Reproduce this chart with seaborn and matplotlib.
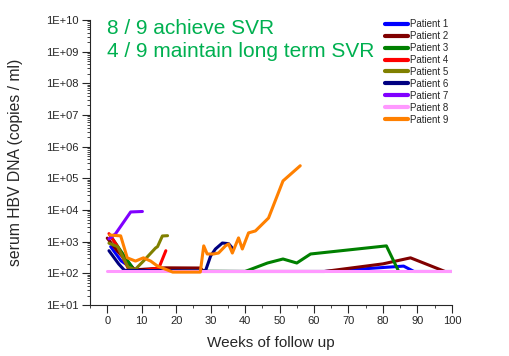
import numpy as np
import pandas as pd
import matplotlib.pyplot as plt
import matplotlib.ticker as mticker
import seaborn as sns

# weeks of follow up / serum HBV DNA (copies/ml)
p1_x = [1, 4, 8, 20, 40, 63, 86, 89, 100]
p1_y = [700, 250, 125, 115, 115, 115, 170, 115, 115]
p2_x = [0, 3, 8, 17, 27, 28, 63, 80, 88, 98]
p2_y = [1300, 500, 130, 150, 148, 115, 115, 200, 310, 115]
p3_x = [1, 4, 8, 40, 46.5, 51, 55, 59, 81, 84.5]
p3_y = [1500, 500, 120, 115, 213, 285, 213, 410, 740, 120]
p4_x = [0.5, 3, 6, 10, 15, 17]
p4_y = [1800, 700, 150, 120, 150, 520]
p5_x = [0.5, 3, 6, 8, 10.5, 14, 14.6, 16, 17.5]
p5_y = [900, 700, 160, 130, 245, 630, 700, 1520, 1550]
p6_x = [0.5, 3.3, 5, 28, 28.5, 30, 31.4, 33.4, 35.2, 36.3]
p6_y = [520, 200, 125, 120, 120, 355, 590, 910, 870, 630]
p7_x = [0.5, 2.4, 6.8, 10.2]
p7_y = [1230, 1780, 8700, 9000]
p8_x = [0, 100]
p8_y = [115, 115]
p9_x = [0.7, 3.9, 5.8, 8.2, 10.5, 12.6, 14.6, 19, 27, 28, 29, 30.8, 32.3, 34.3,
        35.2, 36.3, 38.1, 39.2, 41, 43, 46.8, 51, 56]
p9_y = [1630, 1530, 310, 245, 310, 245, 170, 110, 110, 740, 410, 410, 440, 740,
        850, 440, 1320, 590, 1900, 2190, 5600, 83000, 250000]

patients = ['Patient 1', 'Patient 2', 'Patient 3', 'Patient 4', 'Patient 5',
            'Patient 6', 'Patient 7', 'Patient 8', 'Patient 9']
xs = [p1_x, p2_x, p3_x, p4_x, p5_x, p6_x, p7_x, p8_x, p9_x]
ys = [p1_y, p2_y, p3_y, p4_y, p5_y, p6_y, p7_y, p8_y, p9_y]
colors = ['#0000ff', '#800000', '#008000', '#ff0000', '#808000',
          '#000080', '#8000ff', '#ff99ff', '#ff8000']

frames = []
for name, x, y in zip(patients, xs, ys):
    frames.append(pd.DataFrame({'week': x, 'dna': y, 'patient': name}))
df = pd.concat(frames, ignore_index=True)

sns.set_style('ticks')
plt.rcParams['font.family'] = ['Liberation Sans', 'DejaVu Sans']

fig = plt.figure(figsize=(5.1, 3.56), dpi=100)
ax = fig.add_axes([0.1765, 0.143, 0.7095, 0.801])

sns.lineplot(data=df, x='week', y='dna', hue='patient', hue_order=patients,
             palette=colors, sort=False, estimator=None, units='patient',
             linewidth=2.2, ax=ax)

ax.set_yscale('log')
ax.set_ylim(10, 1e10)
ax.set_xlim(-5, 100)
ax.xaxis.set_major_locator(mticker.MultipleLocator(10))
ax.xaxis.set_minor_locator(mticker.MultipleLocator(5))
ax.yaxis.set_major_locator(mticker.LogLocator(base=10, numticks=20))
ax.yaxis.set_minor_locator(mticker.LogLocator(base=10, subs=np.arange(2, 10), numticks=20))
ax.yaxis.set_minor_formatter(mticker.NullFormatter())
ax.yaxis.set_major_formatter(mticker.FuncFormatter(
    lambda v, p: f"1E+{int(round(np.log10(v))):02d}"))
ax.xaxis.set_major_formatter(mticker.FuncFormatter(lambda v, p: f"{int(v)}" if v >= 0 else ""))
ax.tick_params(which='major', length=6, width=0.8, labelsize=8, pad=2)
ax.tick_params(which='minor', length=2.5, width=0.6)
sns.despine(ax=ax)

ax.set_xlabel('Weeks of follow up', fontsize=11)
ax.set_ylabel('serum HBV DNA (copies / ml)', fontsize=11.3)
ax.xaxis.set_label_coords(0.5, -0.133)
ax.xaxis.label.set_va('center')
ax.yaxis.set_label_coords(-0.205, 0.5)
ax.yaxis.label.set_va('center')

fig.text(0.21, 0.921, '8 / 9 achieve SVR', color='#00b050', fontsize=15, va='center')
fig.text(0.21, 0.854, '4 / 9 maintain long term SVR', color='#00b050', fontsize=15, va='center')

ax.legend(loc='upper left', bbox_to_anchor=(0.745, 0.96), bbox_transform=fig.transFigure,
          frameon=False, fontsize=7, handlelength=2.4, handletextpad=0.2,
          labelspacing=0.2, borderpad=0, title=None)
for line in ax.get_legend().get_lines():
    line.set_linewidth(3)

fig.savefig('out.png', dpi=100)
